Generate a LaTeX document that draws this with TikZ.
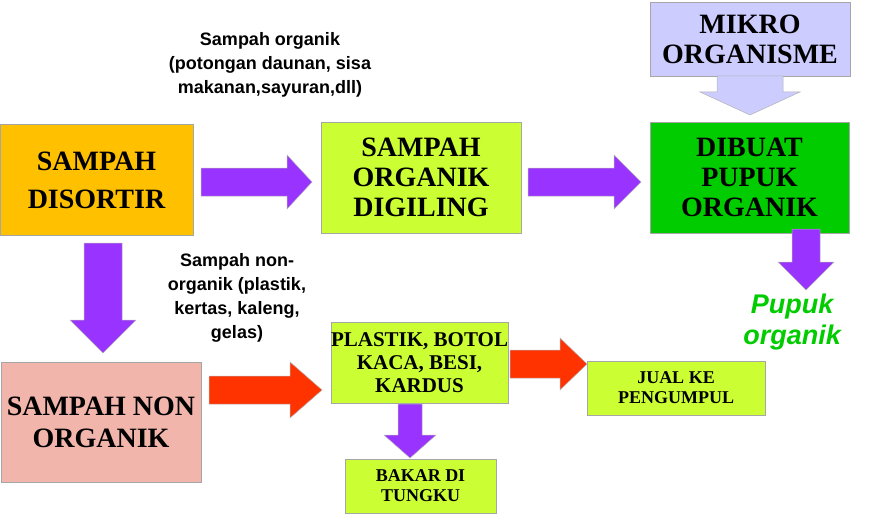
\documentclass[tikz,border=0pt]{standalone}
\usepackage{fontspec}
\setmainfont{Liberation Serif}
\newfontfamily\arialf{Liberation Sans}
\begin{document}
\begin{tikzpicture}[x=1pt,y=-1pt,
 box/.style={draw=gray!70,line width=0.8pt,font=\bfseries,align=center,inner sep=0pt},
 lbl/.style={font=\arialf\bfseries\fontsize{18}{24}\selectfont,align=center}]
\definecolor{purp}{HTML}{9933FF}\definecolor{lpurp}{HTML}{CCCCFF}
\definecolor{lime}{HTML}{CCFF33}\definecolor{redo}{HTML}{FF3300}
\useasboundingbox (0,0) rectangle (890,516);
\newcommand\harrow[7]{\fill[#7,draw=gray!60,line width=0.5pt] (#1,#3-#4)--(#6,#3-#4)--(#6,#3-#5)--(#2,#3)--(#6,#3+#5)--(#6,#3+#4)--(#1,#3+#4)--cycle;}
\newcommand\varrow[7]{\fill[#7,draw=gray!60,line width=0.5pt] (#3-#4,#1)--(#3-#4,#6)--(#3-#5,#6)--(#3,#2)--(#3+#5,#6)--(#3+#4,#6)--(#3+#4,#1)--cycle;}
\node[box,fill={rgb,255:red,255;green,192;blue,0},minimum width=193,minimum height=111,font=\bfseries\fontsize{28}{38}\selectfont] (a) at (96.5,180) {SAMPAH\\DISORTIR};
\node[box,fill=lime,minimum width=200,minimum height=111,font=\bfseries\fontsize{28}{30}\selectfont] (b) at (421,177.5) {SAMPAH\\ORGANIK\\DIGILING};
\node[box,fill={rgb,255:red,0;green,204;blue,0},minimum width=199,minimum height=111,font=\bfseries\fontsize{28}{30}\selectfont] (c) at (749.5,177.5) {DIBUAT\\PUPUK\\ORGANIK};
\node[box,fill=lpurp,minimum width=200,minimum height=74,font=\bfseries\fontsize{28}{30}\selectfont] (m) at (750,39) {MIKRO\\ORGANISME};
\node[box,fill={rgb,255:red,242;green,181;blue,172},minimum width=200,minimum height=120,font=\bfseries\fontsize{28}{32}\selectfont] (d) at (101,422) {SAMPAH NON\\ORGANIK};
\node[box,fill=lime,minimum width=177,minimum height=81,font=\bfseries\fontsize{21}{23}\selectfont] (e) at (419.5,362.5) {PLASTIK, BOTOL\\KACA, BESI,\\KARDUS};
\node[box,fill=lime,minimum width=178,minimum height=54,font=\bfseries\fontsize{18}{20}\selectfont] (f) at (676,388) {JUAL KE\\PENGUMPUL};
\node[box,fill=lime,minimum width=151,minimum height=54,font=\bfseries\fontsize{18}{20}\selectfont] (g) at (420.5,486) {BAKAR DI\\TUNGKU};
\harrow{201}{312}{182}{14}{27}{287}{purp}
\harrow{528}{641}{182}{14}{27}{614}{purp}
\varrow{243}{353}{103}{19}{33}{320}{purp}
\varrow{229}{290}{806}{14}{28}{262}{purp}
\varrow{76}{115}{750}{33}{50}{92}{lpurp}
\harrow{209}{322}{390}{14}{28}{290}{redo}
\harrow{510}{587}{364}{14}{26}{560}{redo}
\varrow{404}{458}{410}{12}{26}{435}{purp}
\node[lbl] (t1) at (270,65) {Sampah organik\\(potongan daunan, sisa\\makanan,sayuran,dll)};
\node[lbl] (t2) at (237,298) {Sampah non-\\organik (plastik,\\kertas, kaleng,\\gelas)};
\node[font=\arialf\bfseries\itshape\fontsize{27}{31}\selectfont,text={rgb,255:red,0;green,204;blue,0},align=center] (p) at (792,322) {Pupuk\\organik};
\end{tikzpicture}
\end{document}
